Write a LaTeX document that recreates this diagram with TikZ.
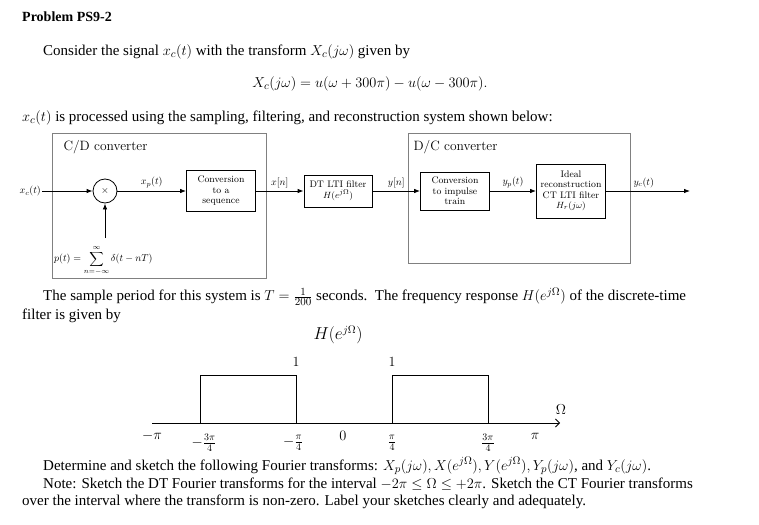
\documentclass[tikz,border=0pt]{standalone}
\usepackage{fontspec}
\setmainfont{Liberation Serif}
\newfontfamily\lm{Latin Modern Roman}
\usetikzlibrary{arrows.meta}
\begin{document}
\begin{tikzpicture}[x=1pt,y=-1pt,
  txt/.style={anchor=west,inner sep=0,font=\fontsize{15}{17}\selectfont},
  blk/.style={draw,thick,align=center,font=\lm\fontsize{9.5}{10.5}\selectfont,inner sep=1pt},
  lab/.style={font=\lm\fontsize{10}{11}\selectfont,inner sep=1pt},
  grp/.style={draw=gray,thick},
  sig/.style={thick,-{Latex[length=6pt]}},
  ax/.style={font=\lm\fontsize{14}{16}\selectfont,inner sep=1pt}]
\useasboundingbox (0,0) rectangle (759,524);
\node[txt,font=\bfseries\fontsize{14}{16}\selectfont] (title) at (22,17) {Problem PS9-2};
\node[txt] (l1) at (43,52) {Consider the signal $x_c(t)$ with the transform $X_c(j\omega)$ given by};
\node[txt,anchor=center] (eq) at (370,84) {$X_c(j\omega)=u(\omega+300\pi)-u(\omega-300\pi).$};
\node[txt] (l2) at (22,118) {$x_c(t)$ is processed using the sampling, filtering, and reconstruction system shown below:};
% groups
\draw[grp] (52,133) rectangle (266,278);
\draw[grp] (408,133) rectangle (630,263);
\node[anchor=west,font=\lm\fontsize{13.5}{15}\selectfont] (cd) at (60,147) {C/D converter};
\node[anchor=west,font=\lm\fontsize{13.5}{15}\selectfont] (dc) at (410,147) {D/C converter};
% blocks
\coordinate (xin) at (42,191);
\node[lab,anchor=east] (xcl) at (42,191) {$x_c(t)$};
\node[draw,thick,circle,minimum size=24pt,inner sep=0] (mul) at (105,191) {$\times$};
\node[blk,minimum width=69pt,minimum height=41pt] (conv) at (221,191) {Conversion\\to a\\sequence};
\node[blk,minimum width=68pt,minimum height=32pt] (dt) at (338,191) {DT LTI filter\\$H(e^{j\Omega})$};
\node[blk,minimum width=69pt,minimum height=38pt] (imp) at (455,191) {Conversion\\to impulse\\train};
\node[blk,minimum width=69pt,minimum height=54pt] (rec) at (571,191) {Ideal\\reconstruction\\CT LTI filter\\$H_r(j\omega)$};
\coordinate (yout) at (690,191);
\node[lab,anchor=west] (pt) at (53,260) {$p(t)=\displaystyle\sum_{n=-\infty}^{\infty}\delta(t-nT)$};
\coordinate (pin) at (105,238);
\draw[sig] (xin) -- (mul);
\draw[sig] (pin) -- (mul);
\draw[sig] (mul) -- node[lab,above=2pt]{$x_p(t)$} (conv);
\draw[sig] (conv) -- node[lab,above=2pt]{$x[n]$} (dt);
\draw[sig] (dt) -- node[lab,above=2pt]{$y[n]$} (imp);
\draw[sig] (imp) -- node[lab,above=2pt]{$y_p(t)$} (rec);
\draw[sig] (rec) -- node[lab,above=2pt,pos=0.45]{$y_c(t)$} (yout);
% text
\node[txt] (l3) at (43,297) {The sample period for this system is $T=\frac{1}{200}$ seconds.\ \ The frequency response $H(e^{j\Omega})$ of the discrete-time};
\node[txt] (l4) at (22,316) {filter is given by};
% plot
\node[ax,font=\lm\fontsize{16}{18}\selectfont] (hl) at (338,335) {$H(e^{j\Omega})$};
\coordinate (a0) at (152,423);
\coordinate (a1) at (560,423);
\draw[thick,-{Straight Barb[length=4pt]}] (a0) -- (a1);
\draw[thick] (200,423) -- (200,375) -- (296,375) -- (296,423);
\draw[thick] (392,423) -- (392,375) -- (488,375) -- (488,423);
\node[ax] (one1) at (296,362) {1};
\node[ax] (one2) at (392,362) {1};
\node[ax] (om) at (561,410) {$\Omega$};
\node[ax] (t1) at (152,436) {$-\pi$};
\node[ax] (t2) at (204,443) {$-\frac{3\pi}{4}$};
\node[ax] (t3) at (293,443) {$-\frac{\pi}{4}$};
\node[ax] (t4) at (343,436) {$0$};
\node[ax] (t5) at (392,443) {$\frac{\pi}{4}$};
\node[ax] (t6) at (488,443) {$\frac{3\pi}{4}$};
\node[ax] (t7) at (535,436) {$\pi$};
\node[txt] (l5) at (43,466) {Determine and sketch the following Fourier transforms: $X_p(j\omega), X(e^{j\Omega}), Y(e^{j\Omega}), Y_p(j\omega)$, and $Y_c(j\omega)$.};
\node[txt] (l6) at (43,484) {Note: Sketch the DT Fourier transforms for the interval $-2\pi\leq\Omega\leq+2\pi$. Sketch the CT Fourier transforms};
\node[txt] (l7) at (22,502) {over the interval where the transform is non-zero. Label your sketches clearly and adequately.};
\end{tikzpicture}
\end{document}
